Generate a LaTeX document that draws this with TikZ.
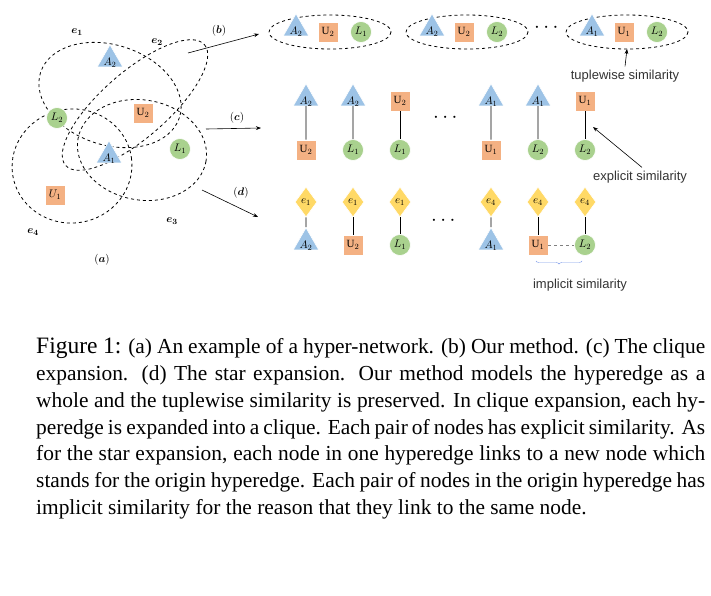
\documentclass[tikz,border=0pt]{standalone}
\usepackage{amsmath,bm}
\usepackage{fontspec}
\setmainfont{Liberation Serif}
\newfontfamily\sans{Liberation Sans}
\usetikzlibrary{shapes.geometric,decorations.pathreplacing,arrows.meta}
\definecolor{tb}{HTML}{9DC3E6}\definecolor{so}{HTML}{F4B183}
\definecolor{cg}{HTML}{A9D18E}\definecolor{dy}{HTML}{FFD966}
\tikzset{
 base/.style={inner sep=0pt,font=\fontsize{11}{11}\selectfont,draw=white,line width=0.6pt},
 tri/.style={base,isosceles triangle,isosceles triangle apex angle=60,shape border rotate=90,fill=tb,minimum height=22pt,minimum width=24pt,text depth=-2pt},
 sq/.style={base,rectangle,fill=so,minimum size=20pt},
 ci/.style={base,circle,fill=cg,minimum size=21pt},
 di/.style={base,diamond,fill=dy,minimum width=22pt,minimum height=30pt},
 he/.style={draw,dashed,line width=0.8pt},
 lk/.style={draw,line width=0.8pt},
 ar/.style={-{Stealth[length=5pt]},line width=0.6pt},
 lab/.style={font=\fontsize{11}{11}\selectfont},
 ann/.style={font=\sans\fontsize{13}{13}\selectfont,text=black!80},
 dots/.style={font=\fontsize{20}{20}\selectfont\bfseries}
}
\begin{document}
\begin{tikzpicture}[x=1pt,y=-1pt]
\useasboundingbox[fill=white] (0,0) rectangle (711,595);
% (a)
\draw[he,rotate around={41:(135,105)}] (135,105) ellipse (92 and 33);
\draw[he,rotate around={-18:(110,95)}] (110,95) ellipse (73 and 50);
\draw[he,rotate around={-10:(142,150)}] (142,150) ellipse (65 and 50);
\draw[he,rotate around={8:(72,166)}] (72,166) ellipse (60 and 57);
\node[tri] (aA2) at (110,62) {$A_2$};
\node[sq] (aU2) at (143,113) {$\mathrm{U}_2$};
\node[ci] (aL2) at (57,118) {$L_2$};
\node[ci] (aL1) at (180,149) {$L_1$};
\node[tri] (aA1) at (109,158) {$A_1$};
\node[sq] (aU1) at (55,195) {$U_1$};
\node[lab] (le1) at (77,32) {$\bm{e_1}$};
\node[lab] (le2) at (157,42) {$\bm{e_2}$};
\node[lab] (le3) at (172,221) {$\bm{e_3}$};
\node[lab] (le4) at (33,232) {$\bm{e_4}$};
\node[lab] (la) at (102,260) {$(\bm{a})$};
\coordinate (b0) at (188,53); \coordinate (b1) at (259,34);
\coordinate (c0) at (206,129); \coordinate (c1) at (261,128);
\coordinate (d0) at (202,190); \coordinate (d1) at (258,217);
\draw[ar] (b0)--(b1); \draw[ar] (c0)--(c1); \draw[ar] (d0)--(d1);
\node[lab] (lb) at (219,31) {$(\bm{b})$};
\node[lab] (lc) at (237,118) {$(\bm{c})$};
\node[lab] (ld) at (241,193) {$(\bm{d})$};
% (b)
\draw[he] (330,32) ellipse (61 and 17);
\draw[he] (467,32) ellipse (61 and 17);
\draw[he] (627,32) ellipse (61 and 17);
\node[tri] at (296,31) {$A_2$}; \node[sq] at (328,32) {$\mathrm{U}_2$}; \node[ci] at (361,32) {$L_1$};
\node[tri] at (432,31) {$A_2$}; \node[sq] at (464,32) {$\mathrm{U}_2$}; \node[ci] at (497,32) {$L_2$};
\node[tri] at (592,31) {$A_1$}; \node[sq] at (624,32) {$\mathrm{U}_1$}; \node[ci] at (657,32) {$L_2$};
\node[dots] (bd) at (548,28) {$\cdots$};
\node[ann] (tw) at (625,76) {tuplewise similarity};
\coordinate (twp) at (627,49);
\draw[ar] (tw.north) -- (twp);
% (c)
\foreach \x/\t/\s/\b/\c in {306/tri/A_2/sq/\mathrm{U}_2, 353/tri/A_2/ci/L_1, 400/sq/\mathrm{U}_2/ci/L_1, 491/tri/A_1/sq/\mathrm{U}_1, 538/tri/A_1/ci/L_2, 585/sq/\mathrm{U}_1/ci/L_2}{
 \node[\t] (ct\x) at (\x,101) {$\s$};
 \node[\b] (cb\x) at (\x,150) {$\c$};
 \draw[lk] (ct\x) -- (cb\x);
}
\node[dots] (cd) at (447,118) {$\cdots$};
\node[ann] (ex) at (640,177) {explicit similarity};
\coordinate (exp) at (593,127);
\draw[ar] (ex.north) ++(2,0) -- (exp);
% (d)
\foreach \x/\e/\b/\c in {306/e_1/tri/A_2, 353/e_1/sq/\mathrm{U}_2, 400/e_1/ci/L_1, 491/e_4/tri/A_1, 538/e_4/sq/\mathrm{U}_1, 585/e_4/ci/L_2}{
 \node[di] (dt\x) at (\x,202) {$\e$};
 \node[\b] (db\x) at (\x,245) {$\c$};
 \draw[lk] (dt\x) -- (db\x);
}
\node[dots] (dd) at (445,221) {$\cdots$};
\draw[dashed,draw=gray,line width=0.6pt] (db538) -- (db585);
\coordinate (br0) at (536,261); \coordinate (br1) at (582,261);
\draw[draw=tb!80!blue,decorate,decoration={brace,mirror,amplitude=3pt}] (br0) -- (br1);
\node[ann] (im) at (580,285) {implicit similarity};
% caption
\node[anchor=north west,inner sep=0pt,text width=669pt,align=justify,font=\fontsize{21.4}{26.8}\selectfont] (cap) at (36,338)
{{\fontsize{23.5}{26.8}\selectfont Figure 1:} (a) An example of a hyper-network. (b) Our method. (c) The clique expansion. (d) The star expansion. Our method models the hyperedge as a whole and the tuplewise similarity is preserved. In clique expansion, each hyperedge is expanded into a clique. Each pair of nodes has explicit similarity. As for the star expansion, each node in one hyperedge links to a new node which stands for the origin hyperedge. Each pair of nodes in the origin hyperedge has implicit similarity for the reason that they link to the same node.};
\end{tikzpicture}
\end{document}
